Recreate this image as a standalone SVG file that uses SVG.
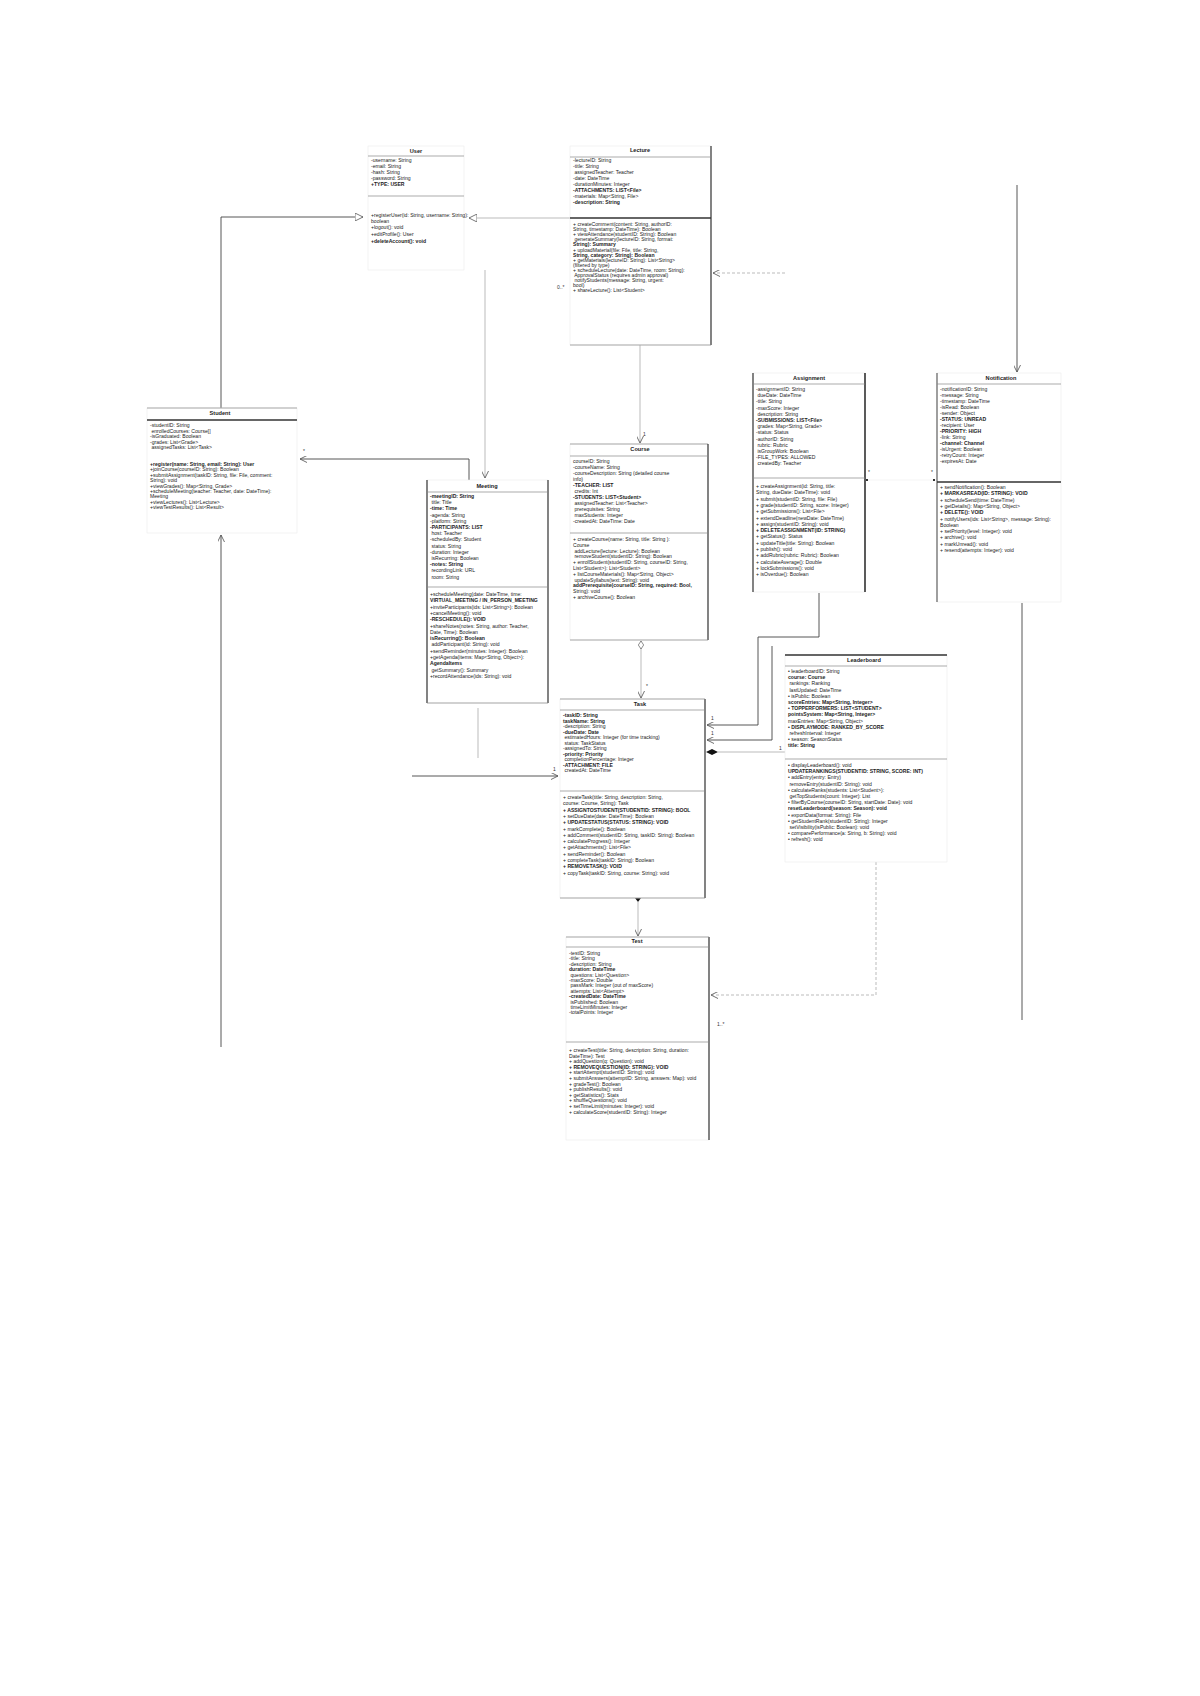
<svg xmlns="http://www.w3.org/2000/svg" width="1200" height="1696" viewBox="0 0 1200 1696">
<style>
.bg{fill:#fff}
.box{fill:#fff;stroke:#ececec;stroke-width:0.6}
.edge{stroke:#333;stroke-width:1.2;fill:none}
.thick{stroke:#333;stroke-width:1.6;fill:none}
.sep{stroke:#888;stroke-width:0.7;fill:none}
.t{font-family:"Liberation Sans",Arial,sans-serif;font-size:5.1px;fill:#222}
.b{font-weight:bold}
.g{fill:#777}
.h{font-family:"Liberation Sans",Arial,sans-serif;font-size:5.6px;font-weight:bold;text-anchor:middle;fill:#222}
.c{stroke:#444;stroke-width:0.9;fill:none}
.cl{stroke:#aaa;stroke-width:0.8;fill:none}
.cd{stroke:#aaa;stroke-width:0.8;fill:none;stroke-dasharray:3 2}
.lab{font-family:"Liberation Sans",Arial,sans-serif;font-size:5px;fill:#333}
</style>
<defs>
<marker id="open" viewBox="0 0 10 10" refX="10" refY="5" markerWidth="7" markerHeight="7" orient="auto-start-reverse" markerUnits="userSpaceOnUse"><path d="M0,0 L10,5 L0,10" fill="none" stroke="#555" stroke-width="1.2"/></marker>
<marker id="tri" viewBox="0 0 10 10" refX="10" refY="5" markerWidth="8" markerHeight="8" orient="auto-start-reverse" markerUnits="userSpaceOnUse"><path d="M0,0 L10,5 L0,10 Z" fill="#fff" stroke="#555" stroke-width="1"/></marker>
<marker id="dia" viewBox="0 0 12 8" refX="0" refY="4" markerWidth="8" markerHeight="6" orient="auto" markerUnits="userSpaceOnUse"><path d="M0,4 L6,0 L12,4 L6,8 Z" fill="#fff" stroke="#555" stroke-width="1"/></marker>
</defs>
<rect class="bg" x="0" y="0" width="1200" height="1696"/>

<g id="connectors">
<polyline class="c" points="221,408 221,217 363,217" marker-end="url(#tri)"/>
<line class="cl" x1="570" y1="218" x2="469" y2="218" marker-end="url(#tri)"/>
<line class="cl" x1="485" y1="270" x2="485" y2="478" marker-end="url(#open)"/>
<polyline class="c" points="469,480 469,459 300,459" marker-end="url(#open)"/>
<text class="lab" x="303" y="453">*</text>
<line class="cl" x1="640" y1="345" x2="640" y2="443" marker-end="url(#open)"/>
<text class="lab" x="643" y="436">1</text>
<line class="cl" x1="641" y1="641" x2="641" y2="698" marker-start="url(#dia)" marker-end="url(#open)"/>
<text class="lab" x="646" y="688">*</text>
<polyline class="c" points="819,593 819,637 758,637 758,725 707,725" marker-end="url(#open)"/>
<text class="lab" x="711" y="720">1</text>
<polyline class="c" points="772,646 772,740 707,740" marker-end="url(#open)"/>
<text class="lab" x="711" y="735">1</text>
<line class="cl" x1="785" y1="752" x2="718" y2="752"/>
<path d="M706,752 L712,749 L718,752 L712,755 Z" fill="#111"/>
<text class="lab" x="779" y="750">1</text>
<line class="cl" x1="638" y1="902" x2="638" y2="936" marker-end="url(#open)"/>
<path d="M638,894 L641,898 L638,902 L635,898 Z" fill="#111"/>
<text class="lab" x="630" y="897">1</text>
<polyline class="cd" points="876,862 876,995 711,995" marker-end="url(#open)"/>
<text class="lab" x="717" y="1026">1..*</text>
<line class="cd" x1="785" y1="273" x2="713" y2="273" marker-end="url(#open)"/>
<text class="lab" x="557" y="289">0..*</text>
<line class="c" x1="1017" y1="185" x2="1017" y2="372" marker-end="url(#open)"/>
<line class="c" x1="1022" y1="603" x2="1022" y2="1020"/>
<line class="c" x1="221" y1="1047" x2="221" y2="535" marker-end="url(#open)"/>
<line class="c" x1="412" y1="776" x2="558" y2="776" marker-end="url(#open)"/>
<text class="lab" x="553" y="771">1</text>
<line class="cl" x1="478" y1="708" x2="478" y2="758"/>
<line stroke="#eee" stroke-width="0.6" x1="865" y1="480" x2="937" y2="480"/>
<rect x="866" y="479" width="2" height="2" fill="#333"/>
<rect x="933" y="479" width="2" height="2" fill="#333"/>
<text class="lab" x="868" y="474">*</text>
<text class="lab" x="931" y="474">*</text>
</g>

<g id="User">
<rect class="box" x="368" y="146" width="96" height="124" stroke="#f2f2f2"/>
<text class="h g" x="416" y="153" font-weight="normal">User</text>
<line class="sep" x1="368" y1="156" x2="464" y2="156"/>
<text class="t"><tspan x="371" y="162">-username: String</tspan><tspan x="371" y="168">-email: String</tspan><tspan x="371" y="174">-hash: String</tspan><tspan x="371" y="180">-password: String</tspan><tspan x="371" y="186" class="b">+TYPE: USER</tspan></text>
<line class="sep" x1="368" y1="196" x2="464" y2="196" stroke="#ccc"/>
<text class="t"><tspan x="371" y="217">+registerUser(id: String, username: String):</tspan><tspan x="371" y="223">boolean</tspan><tspan x="371" y="229">+logout(): void</tspan><tspan x="371" y="236">+editProfile(): User</tspan><tspan x="371" y="243" class="b">+deleteAccount(): void</tspan></text>
</g>

<g id="Lecture">
<rect class="box" x="570" y="146" width="141" height="199"/>
<line class="edge" x1="711" y1="146" x2="711" y2="345"/>
<line class="sep" x1="570" y1="345" x2="711" y2="345" stroke="#555"/>
<text class="h" x="640" y="152">Lecture</text>
<line class="sep" x1="570" y1="157" x2="711" y2="157"/>
<text class="t"><tspan x="573" y="162">-lectureID: String</tspan><tspan x="573" y="168">-title: String</tspan><tspan x="573" y="174"> assignedTeacher: Teacher</tspan><tspan x="573" y="180">-date: DateTime</tspan><tspan x="573" y="186">-durationMinutes: Integer</tspan><tspan x="573" y="192" class="b">-ATTACHMENTS: LIST&lt;File&gt;</tspan><tspan x="573" y="198">-materials: Map&lt;String, File&gt;</tspan><tspan x="573" y="204" class="b">-description: String</tspan></text>
<line class="thick" x1="570" y1="218" x2="711" y2="218"/>
<text class="t"><tspan x="573" y="226">+ createComment(content: String, authorID:</tspan><tspan x="573" y="231.1">String, timestamp: DateTime): Boolean</tspan><tspan x="573" y="236.2">+ viewAttendance(studentID: String): Boolean</tspan><tspan x="573" y="241.3"> generateSummary(lectureID: String, format:</tspan><tspan x="573" y="246.4" class="b">String): Summary</tspan><tspan x="573" y="251.5">+ uploadMaterial(file: File, title: String,</tspan><tspan x="573" y="256.6" class="b">String, category: String): Boolean</tspan><tspan x="573" y="261.7">+ getMaterials(lectureID: String): List&lt;String&gt;</tspan><tspan x="573" y="266.8">(filtered by type)</tspan><tspan x="573" y="271.9">+ scheduleLecture(date: DateTime, room: String):</tspan><tspan x="573" y="277"> ApprovalStatus (requires admin approval)</tspan><tspan x="573" y="282.1"> notifyStudents(message: String, urgent:</tspan><tspan x="573" y="287.2">bool)</tspan><tspan x="573" y="292.3">+ shareLecture(): List&lt;Student&gt;</tspan></text>
</g>

<g id="Student">
<rect class="box" x="147" y="408" width="150" height="125" stroke="#f2f2f2"/>
<line class="sep" x1="147" y1="408" x2="297" y2="408" stroke="#555"/>
<text class="h" x="220" y="415">Student</text>
<line class="thick" x1="147" y1="420" x2="297" y2="420"/>
<text class="t"><tspan x="150" y="427">-studentID: String</tspan><tspan x="150" y="432.5"> enrolledCourses: Course[]</tspan><tspan x="150" y="438">-isGraduated: Boolean</tspan><tspan x="150" y="443.5">-grades: List&lt;Grade&gt;</tspan><tspan x="150" y="449"> assignedTasks: List&lt;Task&gt;</tspan></text>
<text class="t"><tspan x="150" y="466" class="b">+register(name: String, email: String): User</tspan><tspan x="150" y="471.4">+joinCourse(courseID: String): Boolean</tspan><tspan x="150" y="476.8">+submitAssignment(taskID: String, file: File, comment:</tspan><tspan x="150" y="482.2">String): void</tspan><tspan x="150" y="487.6">+viewGrades(): Map&lt;String, Grade&gt;</tspan><tspan x="150" y="493">+scheduleMeeting(teacher: Teacher, date: DateTime):</tspan><tspan x="150" y="498.4">Meeting</tspan><tspan x="150" y="503.8">+viewLectures(): List&lt;Lecture&gt;</tspan><tspan x="150" y="509.2">+viewTestResults(): List&lt;Result&gt;</tspan></text>
</g>

<g id="Meeting">
<rect class="box" x="427" y="480" width="121" height="223"/>
<line class="edge" x1="427" y1="480" x2="427" y2="703"/>
<line class="edge" x1="548" y1="480" x2="548" y2="703"/>
<line class="sep" x1="427" y1="703" x2="548" y2="703" stroke="#444"/>
<text class="h" x="487" y="488">Meeting</text>
<line class="sep" x1="427" y1="492" x2="548" y2="492"/>
<text class="t"><tspan x="430" y="498" class="b">-meetingID: String</tspan><tspan x="430" y="504.2"> title: Title</tspan><tspan x="430" y="510.4" class="b">-time: Time</tspan><tspan x="430" y="516.6">-agenda: String</tspan><tspan x="430" y="522.8">-platform: String</tspan><tspan x="430" y="529" class="b">-PARTICIPANTS: LIST</tspan><tspan x="430" y="535.2"> host: Teacher</tspan><tspan x="430" y="541.4">-scheduledBy: Student</tspan><tspan x="430" y="547.6"> status: String</tspan><tspan x="430" y="553.8">-duration: Integer</tspan><tspan x="430" y="560"> isRecurring: Boolean</tspan><tspan x="430" y="566.2" class="b">-notes: String</tspan><tspan x="430" y="572.4"> recordingLink: URL</tspan><tspan x="430" y="578.6"> room: String</tspan></text>
<line class="sep" x1="427" y1="587" x2="548" y2="587" stroke="#555"/>
<text class="t"><tspan x="430" y="596">+scheduleMeeting(date: DateTime, time:</tspan><tspan x="430" y="602.3" class="b">VIRTUAL_MEETING / IN_PERSON_MEETING</tspan><tspan x="430" y="608.6">+inviteParticipants(ids: List&lt;String&gt;): Boolean</tspan><tspan x="430" y="614.9">+cancelMeeting(): void</tspan><tspan x="430" y="621.2" class="b">-RESCHEDULE(): VOID</tspan><tspan x="430" y="627.5">+shareNotes(notes: String, author: Teacher,</tspan><tspan x="430" y="633.8">Date, Time): Boolean</tspan><tspan x="430" y="640.1" class="b">isRecurring(): Boolean</tspan><tspan x="430" y="646.4"> addParticipant(id: String): void</tspan><tspan x="430" y="652.7">+sendReminder(minutes: Integer): Boolean</tspan><tspan x="430" y="659">+getAgenda(items: Map&lt;String, Object&gt;):</tspan><tspan x="430" y="665.3" class="b">AgendaItems</tspan><tspan x="430" y="671.6"> getSummary(): Summary</tspan><tspan x="430" y="677.9">+recordAttendance(ids: String): void</tspan></text>
</g>

<g id="Course">
<rect class="box" x="570" y="444" width="138" height="196"/>
<line class="sep" x1="570" y1="444" x2="708" y2="444" stroke="#555"/>
<line class="edge" x1="708" y1="444" x2="708" y2="640"/>
<line class="sep" x1="570" y1="640" x2="708" y2="640" stroke="#666"/>
<text class="h" x="640" y="451" font-weight="normal">Course</text>
<line class="sep" x1="570" y1="456" x2="708" y2="456" stroke="#ccc"/>
<text class="t"><tspan x="573" y="463"> courseID: String</tspan><tspan x="573" y="469">-courseName: String</tspan><tspan x="573" y="475">-courseDescription: String (detailed course</tspan><tspan x="573" y="481">info)</tspan><tspan x="573" y="487" class="b">-TEACHER: LIST</tspan><tspan x="573" y="493"> credits: Int</tspan><tspan x="573" y="499" class="b">-STUDENTS: LIST&lt;Student&gt;</tspan><tspan x="573" y="505"> assignedTeacher: List&lt;Teacher&gt;</tspan><tspan x="573" y="511"> prerequisites: String</tspan><tspan x="573" y="517"> maxStudents: Integer</tspan><tspan x="573" y="523">-createdAt: DateTime: Date</tspan></text>
<line class="sep" x1="570" y1="533" x2="708" y2="533" stroke="#ccc"/>
<text class="t"><tspan x="573" y="541">+ createCourse(name: String, title: String ):</tspan><tspan x="573" y="546.8">Course</tspan><tspan x="573" y="552.6"> addLecture(lecture: Lecture): Boolean</tspan><tspan x="573" y="558.4"> removeStudent(studentID: String): Boolean</tspan><tspan x="573" y="564.2">+ enrollStudent(studentID: String, courseID: String,</tspan><tspan x="573" y="570">List&lt;Student&gt;): List&lt;Student&gt;</tspan><tspan x="573" y="575.8">+ listCourseMaterials(): Map&lt;String, Object&gt;</tspan><tspan x="573" y="581.6"> updateSyllabus(text: String): void</tspan><tspan x="573" y="587.4" class="b">addPrerequisite(courseID: String, required: Bool,</tspan><tspan x="573" y="593.2">String): void</tspan><tspan x="573" y="599">+ archiveCourse(): Boolean</tspan></text>
</g>

<g id="Assignment">
<rect class="box" x="753" y="373" width="112" height="219"/>
<line class="edge" x1="753" y1="373" x2="753" y2="592"/>
<line class="thick" x1="865" y1="373" x2="865" y2="592"/>
<text class="h" x="809" y="380">Assignment</text>
<line class="sep" x1="753" y1="384" x2="865" y2="384" stroke="#ccc"/>
<text class="t"><tspan x="756" y="391">-assignmentID: String</tspan><tspan x="756" y="397.2"> dueDate: DateTime</tspan><tspan x="756" y="403.4">-title: String</tspan><tspan x="756" y="409.6">-maxScore: Integer</tspan><tspan x="756" y="415.8"> description: String</tspan><tspan x="756" y="422" class="b">-SUBMISSIONS: LIST&lt;File&gt;</tspan><tspan x="756" y="428.2"> grades: Map&lt;String, Grade&gt;</tspan><tspan x="756" y="434.4">-status: Status</tspan><tspan x="756" y="440.6">-authorID: String</tspan><tspan x="756" y="446.8"> rubric: Rubric</tspan><tspan x="756" y="453"> isGroupWork: Boolean</tspan><tspan x="756" y="459.2">-FILE_TYPES: ALLOWED</tspan><tspan x="756" y="465.4"> createdBy: Teacher</tspan></text>
<line class="sep" x1="753" y1="478" x2="865" y2="478" stroke="#ccc"/>
<text class="t"><tspan x="756" y="488">+ createAssignment(id: String, title:</tspan><tspan x="756" y="494.3">String, dueDate: DateTime): void</tspan><tspan x="756" y="500.6">+ submit(studentID: String, file: File)</tspan><tspan x="756" y="506.9">+ grade(studentID: String, score: Integer)</tspan><tspan x="756" y="513.2">+ getSubmissions(): List&lt;File&gt;</tspan><tspan x="756" y="519.5">+ extendDeadline(newDate: DateTime)</tspan><tspan x="756" y="525.8">+ assign(studentID: String): void</tspan><tspan x="756" y="532.1" class="b">+ DELETEASSIGNMENT(ID: STRING)</tspan><tspan x="756" y="538.4">+ getStatus(): Status</tspan><tspan x="756" y="544.7">+ updateTitle(title: String): Boolean</tspan><tspan x="756" y="551">+ publish(): void</tspan><tspan x="756" y="557.3">+ addRubric(rubric: Rubric): Boolean</tspan><tspan x="756" y="563.6">+ calculateAverage(): Double</tspan><tspan x="756" y="569.9">+ lockSubmissions(): void</tspan><tspan x="756" y="576.2">+ isOverdue(): Boolean</tspan></text>
</g>

<g id="Notification">
<rect class="box" x="937" y="373" width="124" height="229"/>
<line stroke="#555" stroke-width="1.1" x1="937" y1="373" x2="937" y2="602"/>
<text class="h" x="1001" y="380">Notification</text>
<line class="sep" x1="937" y1="384" x2="1061" y2="384" stroke="#ccc"/>
<text class="t"><tspan x="940" y="391">-notificationID: String</tspan><tspan x="940" y="397">-message: String</tspan><tspan x="940" y="403">-timestamp: DateTime</tspan><tspan x="940" y="409">-isRead: Boolean</tspan><tspan x="940" y="415">-sender: Object</tspan><tspan x="940" y="421" class="b">-STATUS: UNREAD</tspan><tspan x="940" y="427">-recipient: User</tspan><tspan x="940" y="433" class="b">-PRIORITY: HIGH</tspan><tspan x="940" y="439">-link: String</tspan><tspan x="940" y="445" class="b">-channel: Channel</tspan><tspan x="940" y="451">-isUrgent: Boolean</tspan><tspan x="940" y="457">-retryCount: Integer</tspan><tspan x="940" y="463">-expiresAt: Date</tspan></text>
<line class="thick" x1="937" y1="482" x2="1061" y2="482"/>
<text class="t"><tspan x="940" y="489">+ sendNotification(): Boolean</tspan><tspan x="940" y="495.3" class="b">+ MARKASREAD(ID: STRING): VOID</tspan><tspan x="940" y="501.6">+ scheduleSend(time: DateTime)</tspan><tspan x="940" y="507.9">+ getDetails(): Map&lt;String, Object&gt;</tspan><tspan x="940" y="514.2" class="b">+ DELETE(): VOID</tspan><tspan x="940" y="520.5">+ notifyUsers(ids: List&lt;String&gt;, message: String):</tspan><tspan x="940" y="526.8">Boolean</tspan><tspan x="940" y="533.1">+ setPriority(level: Integer): void</tspan><tspan x="940" y="539.4">+ archive(): void</tspan><tspan x="940" y="545.7">+ markUnread(): void</tspan><tspan x="940" y="552">+ resend(attempts: Integer): void</tspan></text>
</g>

<g id="Leaderboard">
<rect class="box" x="785" y="655" width="162" height="207"/>
<line class="thick" x1="785" y1="655" x2="947" y2="655"/>
<text class="h" x="864" y="662">Leaderboard</text>
<line class="sep" x1="785" y1="666" x2="947" y2="666" stroke="#ccc"/>
<text class="t"><tspan x="788" y="673">• leaderboardID: String</tspan><tspan x="788" y="679.2" class="b">course: Course</tspan><tspan x="788" y="685.4"> rankings: Ranking</tspan><tspan x="788" y="691.6"> lastUpdated: DateTime</tspan><tspan x="788" y="697.8">• isPublic: Boolean</tspan><tspan x="788" y="704" class="b">scoreEntries: Map&lt;String, Integer&gt;</tspan><tspan x="788" y="710.2" class="b">• TOPPERFORMERS: LIST&lt;STUDENT&gt;</tspan><tspan x="788" y="716.4" class="b">pointsSystem: Map&lt;String, Integer&gt;</tspan><tspan x="788" y="722.6">maxEntries: Map&lt;String, Object&gt;</tspan><tspan x="788" y="728.8" class="b">• DISPLAYMODE: RANKED_BY_SCORE</tspan><tspan x="788" y="735"> refreshInterval: Integer</tspan><tspan x="788" y="741.2">• season: SeasonStatus</tspan><tspan x="788" y="747.4" class="b">title: String</tspan></text>
<line class="sep" x1="785" y1="759" x2="947" y2="759" stroke="#ccc"/>
<text class="t"><tspan x="788" y="767">• displayLeaderboard(): void</tspan><tspan x="788" y="773.2" class="b">UPDATERANKINGS(STUDENTID: STRING, SCORE: INT)</tspan><tspan x="788" y="779.4">• addEntry(entry: Entry)</tspan><tspan x="788" y="785.6"> removeEntry(studentID: String): void</tspan><tspan x="788" y="791.8">• calculateRanks(students: List&lt;Student&gt;):</tspan><tspan x="788" y="798"> getTopStudents(count: Integer): List</tspan><tspan x="788" y="804.2">• filterByCourse(courseID: String, startDate: Date): void</tspan><tspan x="788" y="810.4" class="b">resetLeaderboard(season: Season): void</tspan><tspan x="788" y="816.6">• exportData(format: String): File</tspan><tspan x="788" y="822.8">• getStudentRank(studentID: String): Integer</tspan><tspan x="788" y="829"> setVisibility(isPublic: Boolean): void</tspan><tspan x="788" y="835.2">• comparePerformance(a: String, b: String): void</tspan><tspan x="788" y="841.4">• refresh(): void</tspan></text>
</g>

<g id="Task">
<rect class="box" x="560" y="699" width="145" height="199"/>
<line class="edge" x1="705" y1="699" x2="705" y2="898"/>
<line class="sep" x1="560" y1="699" x2="705" y2="699" stroke="#555"/>
<line class="sep" x1="560" y1="898" x2="705" y2="898" stroke="#666"/>
<text class="h" x="640" y="706">Task</text>
<line class="sep" x1="560" y1="710" x2="705" y2="710" stroke="#ccc"/>
<text class="t"><tspan x="563" y="717" class="b">-taskID: String</tspan><tspan x="563" y="722.5" class="b">taskName: String</tspan><tspan x="563" y="728">-description: String</tspan><tspan x="563" y="733.5" class="b">-dueDate: Date</tspan><tspan x="563" y="739"> estimatedHours: Integer (for time tracking)</tspan><tspan x="563" y="744.5"> status: TaskStatus</tspan><tspan x="563" y="750">-assignedTo: String</tspan><tspan x="563" y="755.5" class="b">-priority: Priority</tspan><tspan x="563" y="761"> completionPercentage: Integer</tspan><tspan x="563" y="766.5" class="b">-ATTACHMENT: FILE</tspan><tspan x="563" y="772"> createdAt: DateTime</tspan></text>
<line class="sep" x1="560" y1="791" x2="705" y2="791" stroke="#ccc"/>
<text class="t"><tspan x="563" y="799">+ createTask(title: String, description: String,</tspan><tspan x="563" y="805.3">course: Course, String): Task</tspan><tspan x="563" y="811.6" class="b">+ ASSIGNTOSTUDENT(STUDENTID: STRING): BOOL</tspan><tspan x="563" y="817.9">+ setDueDate(date: DateTime): Boolean</tspan><tspan x="563" y="824.2" class="b">+ UPDATESTATUS(STATUS: STRING): VOID</tspan><tspan x="563" y="830.5">+ markComplete(): Boolean</tspan><tspan x="563" y="836.8">+ addComment(studentID: String, taskID: String): Boolean</tspan><tspan x="563" y="843.1">+ calculateProgress(): Integer</tspan><tspan x="563" y="849.4">+ getAttachments(): List&lt;File&gt;</tspan><tspan x="563" y="855.7">+ sendReminder(): Boolean</tspan><tspan x="563" y="862">+ completeTask(taskID: String): Boolean</tspan><tspan x="563" y="868.3" class="b">+ REMOVETASK(): VOID</tspan><tspan x="563" y="874.6">+ copyTask(taskID: String, course: String): void</tspan></text>
</g>

<g id="Test">
<rect class="box" x="566" y="937" width="143" height="203"/>
<line class="edge" x1="709" y1="937" x2="709" y2="1140"/>
<line class="sep" x1="566" y1="937" x2="709" y2="937" stroke="#444"/>
<text class="h" x="637" y="943">Test</text>
<line class="sep" x1="566" y1="947" x2="709" y2="947" stroke="#ccc"/>
<text class="t"><tspan x="569" y="955">-testID: String</tspan><tspan x="569" y="960.4">-title: String</tspan><tspan x="569" y="965.8">-description: String</tspan><tspan x="569" y="971.2" class="b">duration: DateTime</tspan><tspan x="569" y="976.6">  questions: List&lt;Question&gt;</tspan><tspan x="569" y="982">-maxScore: Double</tspan><tspan x="569" y="987.4">  passMark: Integer (out of maxScore)</tspan><tspan x="569" y="992.8">  attempts: List&lt;Attempt&gt;</tspan><tspan x="569" y="998.2" class="b">-createdDate: DateTime</tspan><tspan x="569" y="1003.6">  isPublished: Boolean</tspan><tspan x="569" y="1009">  timeLimitMinutes: Integer</tspan><tspan x="569" y="1014.4">-totalPoints: Integer</tspan></text>
<line class="sep" x1="566" y1="1042" x2="709" y2="1042" stroke="#555"/>
<text class="t"><tspan x="569" y="1052">+ createTest(title: String, description: String, duration:</tspan><tspan x="569" y="1057.6">DateTime): Test</tspan><tspan x="569" y="1063.2">+ addQuestion(q: Question): void</tspan><tspan x="569" y="1068.8" class="b">+ REMOVEQUESTION(ID: STRING): VOID</tspan><tspan x="569" y="1074.4">+ startAttempt(studentID: String): void</tspan><tspan x="569" y="1080">+ submitAnswers(attemptID: String, answers: Map): void</tspan><tspan x="569" y="1085.6">+ gradeTest(): Boolean</tspan><tspan x="569" y="1091.2">+ publishResults(): void</tspan><tspan x="569" y="1096.8">+ getStatistics(): Stats</tspan><tspan x="569" y="1102.4">+ shuffleQuestions(): void</tspan><tspan x="569" y="1108">+ setTimeLimit(minutes: Integer): void</tspan><tspan x="569" y="1113.6">+ calculateScore(studentID: String): Integer</tspan></text>
</g>
</svg>
